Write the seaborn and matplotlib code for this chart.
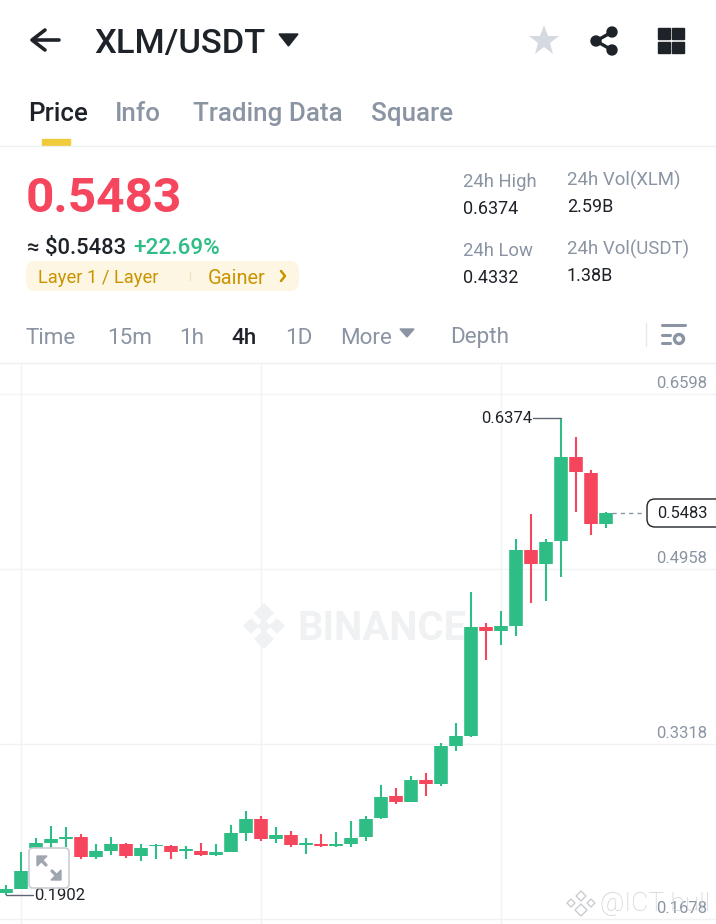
import matplotlib
matplotlib.use('Agg')
import matplotlib.pyplot as plt
import matplotlib.transforms as mtrans
from matplotlib.patches import FancyBboxPatch, Polygon, Rectangle, Circle
import pandas as pd
import seaborn as sns

# candles, oldest first
opens = [.1922, .1965, .2346, .2390, .2428, .2452, .2265, .2318, .2387, .2268, .2362, .2362, .2321, .2315, .2284, .2312,
         .2490, .2618, .2428, .2471, .2377, .2387, .2368, .2387, .2446, .2625, .2831, .2780, .2983, .2943, .3305,
         .3399, .4420, .4382, .4429, .5138, .5010, .5220, .6007, .5863, .5379]
highs = [.2000, .2312, .2440, .2555, .2546, .2477, .2384, .2449, .2393, .2384, .2381, .2374, .2365, .2396, .2384, .2565,
         .2693, .2649, .2546, .2508, .2437, .2477, .2496, .2602, .2643, .2934, .2908, .3018, .3052, .3327, .3520,
         .4742, .4454, .4564, .5242, .5476, .5239, .6374, .6194, .5888, .5495]
lows = [.1902, .1962, .2309, .2346, .2356, .2243, .2243, .2281, .2253, .2224, .2243, .2246, .2240, .2274, .2268, .2309,
        .2409, .2409, .2396, .2358, .2293, .2358, .2353, .2358, .2415, .2621, .2756, .2777, .2836, .2927, .3258,
        .3389, .4108, .4251, .4330, .4645, .4661, .4883, .5497, .5279, .5342]
closes = [.1965, .2134, .2390, .2431, .2452, .2265, .2315, .2384, .2268, .2349, .2374, .2309, .2337, .2284, .2312, .2487,
          .2618, .2428, .2471, .2371, .2390, .2368, .2384, .2440, .2621, .2827, .2780, .2981, .2949, .3299, .3396,
          .4420, .4382, .4424, .5138, .5010, .5211, .6007, .5867, .5379, .5483]

price_ticks = [.6598, .4958, .3318, .1678]
price_labels = ['0.6598', '0.4958', '0.3318', '0.1678']
last_price = .5483
high_price = .6374
low_price = .1902

GREEN = '#2EBD85'
RED = '#F6465D'
DARK = '#1E2329'
GRAY = '#8A94A3'
LIGHT = '#F1F2F4'
GOLD = '#C99400'

sns.set_theme(style='white')
plt.rcParams['font.family'] = ['Roboto', 'DejaVu Sans']

W, H = 716, 924
fig = plt.figure(figsize=(W / 100, H / 100), dpi=100, facecolor='white')


def overlay(z):
    a = fig.add_axes([0, 0, 1, 1], zorder=z)
    a.set_xlim(0, W)
    a.set_ylim(H, 0)
    a.axis('off')
    a.patch.set_alpha(0)
    return a


def put(a, x, y, s, px, color=DARK, ha='left', weight='normal', **kw):
    # +4: text centres came out a little high
    a.text(x, y + 4, s, fontsize=px * .72, color=color, ha=ha, va='center', fontweight=weight, **kw)


back = overlay(0)
top = overlay(5)

# header
back.plot([33, 59], [40, 40], color=DARK, lw=2.6)
back.plot([45, 32, 45], [30, 40, 50], color=DARK, lw=2.6)
put(back, 94, 40, 'XLM/USDT', 34.5, weight='medium')
back.add_patch(Polygon([(279, 34), (298, 34), (288.5, 46)], color=DARK))
back.plot([544], [41], marker='*', ms=23, color='#D5D9E0', mew=0)
for xs, ys in [((596, 612), (41, 32)), ((596, 612), (41, 50))]:
    back.plot(xs, ys, color=DARK, lw=2.4)
for cx, cy, r in [(596, 41, 5), (612, 32, 5), (612, 50, 5)]:
    back.add_patch(Circle((cx, cy), r, color=DARK))
for x0 in (658, 672):
    for y0 in (28, 42):
        back.add_patch(Rectangle((x0, y0), 12, 11, color=DARK))

# tabs
put(back, 28, 110, 'Price', 26, weight='medium')
put(back, 115, 110, 'Info', 26, GRAY, weight='medium')
put(back, 193, 110, 'Trading Data', 26, GRAY, weight='medium')
put(back, 371, 110, 'Square', 26, GRAY, weight='medium')
back.add_patch(Rectangle((42, 139), 28, 6, color='#F0CB3B'))
back.plot([0, W], [145.5, 145.5], color='#EEF0F2', lw=1)

# price block
put(back, 26, 195, '0.5483', 49.5, RED, weight='bold')
put(back, 27, 245, '≈ $0.5483', 22, DARK, weight='medium')
put(back, 133, 245, '+22.69%', 22.5, GREEN, weight='medium')
back.add_patch(FancyBboxPatch((34, 269), 257, 14, boxstyle='round,pad=0,rounding_size=0', mutation_scale=1,
                              fc='#FDF6E3', ec='#FDF6E3', lw=11.5, joinstyle='round'))
put(back, 38, 274, 'Layer 1 / Layer', 18.4, GOLD)
back.plot([190, 190], [272, 280], color='#EFE3C2', lw=1)
put(back, 208, 274, 'Gainer', 20, GOLD)
back.plot([281, 285, 281], [271, 276, 281], color=GOLD, lw=1.8)

put(back, 463, 178, '24h High', 18.5, GRAY)
put(back, 463, 205, '0.6374', 18, DARK)
put(back, 567, 176, '24h Vol(XLM)', 18.7, GRAY)
put(back, 567, 203, '2.59B', 18, DARK)
put(back, 463, 247, '24h Low', 18.5, GRAY)
put(back, 463, 274, '0.4332', 18, DARK)
put(back, 567, 245, '24h Vol(USDT)', 18.7, GRAY)
put(back, 567, 272, '1.38B', 18, DARK)

# timeframe row
for x, s in [(26, 'Time'), (107, '15m'), (179, '1h'), (285, '1D'), (340, 'More'), (450, 'Depth')]:
    put(back, x, 334, s, 22.5, GRAY)
put(back, 231, 334, '4h', 22.5, DARK, weight='medium')
back.add_patch(Polygon([(400, 329), (414, 329), (407, 337)], color=GRAY))
back.plot([646, 646], [323, 346], color='#E6E8EB', lw=1)
back.plot([662, 685], [325, 325], color=GRAY, lw=2.2)
back.plot([662, 670], [335, 335], color=GRAY, lw=2.2)
back.plot([662, 670], [343, 343], color=GRAY, lw=2.2)
back.add_patch(Circle((679, 339), 4.5, fc='white', ec=GRAY, lw=2.4))
back.plot([0, W], [363, 363], color='#EEF0F2', lw=1)

# faint watermark in the chart
put(back, 297, 625, 'BINANCE', 40, '#EFF1F3', weight='bold')
for cx, cy, r in [(264, 613, 9), (251, 626, 7), (277, 626, 7), (264, 639, 9), (264, 626, 6)]:
    back.add_patch(Polygon([(cx - r, cy), (cx, cy - r), (cx + r, cy), (cx, cy + r)], color='#EFF1F3'))

# chart axes, price runs through the pixel rows below y=363
ax = fig.add_axes([0, 0, 1, (H - 363) / H], zorder=2)
ax.patch.set_alpha(0)

idx = list(range(len(opens)))
wicks = pd.DataFrame({
    'candle': idx + idx,
    'price': highs + lows,
    'side': ['up' if c >= o else 'down' for o, c in zip(opens, closes)] * 2,
})
bodies = pd.DataFrame({
    'candle': idx + idx,
    'price': opens + closes,
    'side': ['up' if c >= o else 'down' for o, c in zip(opens, closes)] * 2,
})
pal = {'up': GREEN, 'down': RED}
sns.lineplot(data=wicks, x='candle', y='price', hue='side', units='candle', estimator=None, palette=pal,
             linewidth=1.5, legend=False, ax=ax, solid_capstyle='butt')
sns.lineplot(data=bodies, x='candle', y='price', hue='side', units='candle', estimator=None, palette=pal,
             linewidth=9.8, legend=False, ax=ax, solid_capstyle='butt')

ax.set_xlim(-.43, 47.3)
ax.set_ylim(.1634, .6891)
ax.set_xlabel('')
ax.set_ylabel('')
ax.set_xticks([1, 17, 33])
ax.set_xticklabels([])
ax.set_yticks(price_ticks)
ax.set_yticklabels(price_labels)
ax.yaxis.tick_right()
ax.tick_params(axis='y', length=0, pad=-43.2, labelsize=12, labelcolor=GRAY, labelright=True)
ax.tick_params(axis='x', length=0)
ax.grid(True, color=LIGHT, lw=1)
ax.set_axisbelow(True)
sns.despine(ax=ax, left=True, bottom=True, right=True, top=True)
shift = mtrans.ScaledTranslation(0, 3 / 100, fig.dpi_scale_trans)
for lab in ax.get_yticklabels():
    lab.set_va('bottom')
    lab.set_transform(lab.get_transform() + shift)

# high and low callouts
hi_i = highs.index(high_price)
lo_i = lows.index(low_price)
ax.plot([hi_i - 1.87, hi_i], [high_price, high_price], color='#5E6673', lw=1)
ax.plot([lo_i, lo_i + 1.8], [low_price, low_price], color='#5E6673', lw=1)
ax.annotate('0.6374', (hi_i - 1.93, high_price), ha='right', va='center', fontsize=12, color=DARK)
ax.annotate('0.1902', (lo_i + 1.87, low_price), ha='left', va='center', fontsize=12, color=DARK)

# last price dashed line and tag
ax.plot([len(opens) - .6, 42.35], [last_price, last_price], color='#8A94A3', lw=1, ls=(0, (3, 3)))
top.add_patch(FancyBboxPatch((652, 504), 70, 18, boxstyle='round,pad=5,rounding_size=8', fc='white', ec=DARK, lw=1))
put(top, 657, 510, '0.5483', 16.5, DARK)

# expand button
top.add_patch(FancyBboxPatch((31, 850), 36, 36, boxstyle='round,pad=2,rounding_size=4', fc='white', ec='#C9CDD3', lw=1.2))
top.plot([39, 46], [858, 865], color='#A0A6AF', lw=2.4)
top.plot([52, 59], [871, 878], color='#A0A6AF', lw=2.4)
top.add_patch(Polygon([(37, 856), (47, 856), (37, 866)], color='#A0A6AF'))
top.add_patch(Polygon([(61, 880), (51, 880), (61, 870)], color='#A0A6AF'))

# author stamp bottom right
top.text(600, 904, '@ICT bull', fontsize=19, color='#CFD1D4', va='center', ha='left', fontweight='light')
for cx, cy, r in [(581, 896, 5), (571, 903, 4), (591, 903, 4), (581, 910, 6)]:
    top.add_patch(Polygon([(cx - r, cy), (cx, cy - r), (cx + r, cy), (cx, cy + r)], fc='none', ec='#C4C7CB', lw=.9))

fig.savefig('out.png', dpi=100)
